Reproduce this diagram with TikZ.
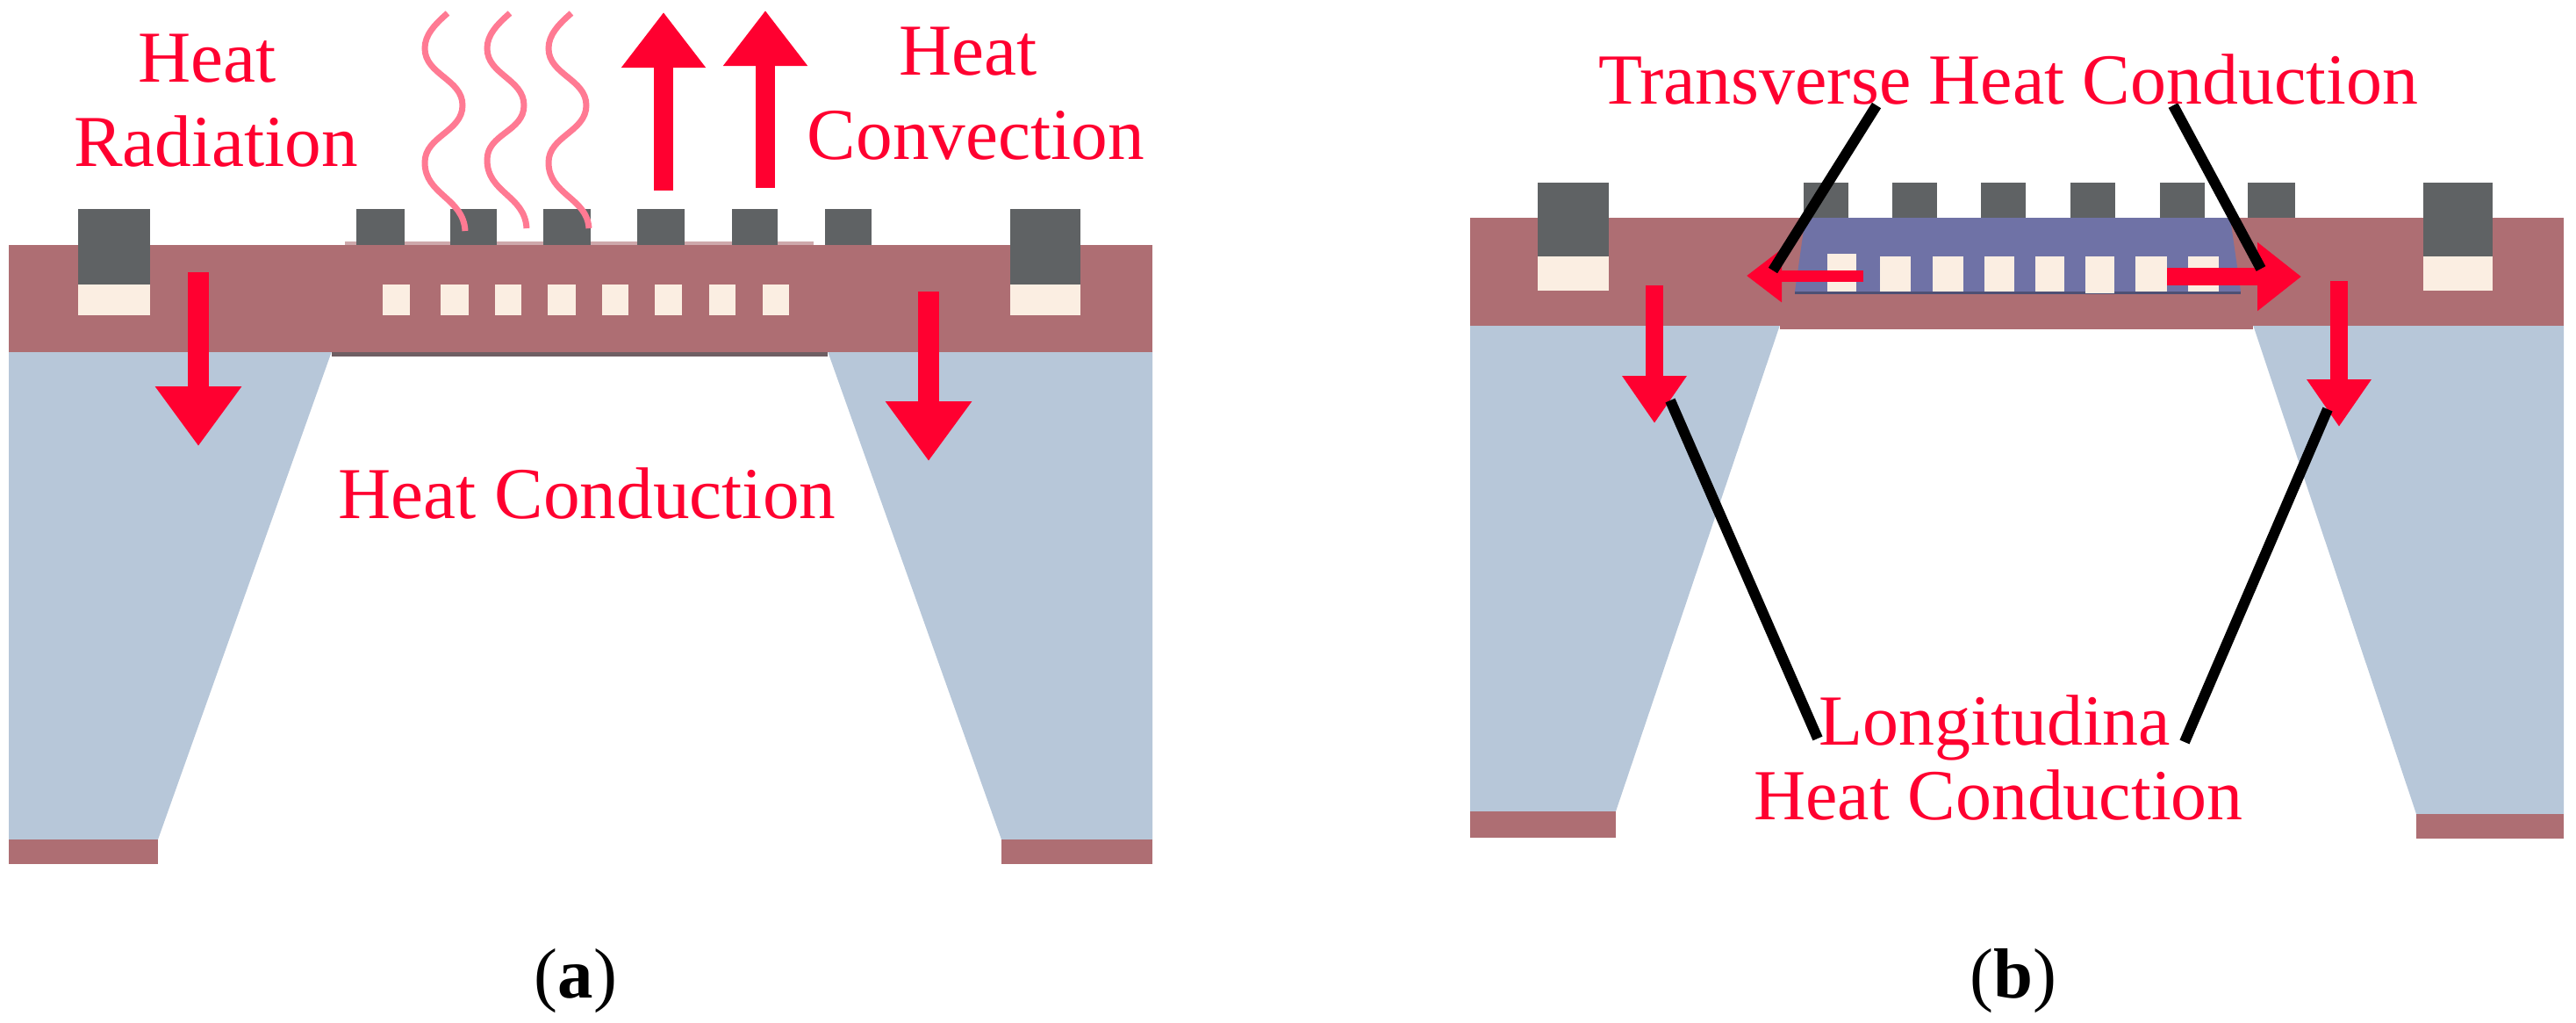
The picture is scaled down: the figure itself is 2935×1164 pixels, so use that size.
\documentclass[tikz,border=0pt]{standalone}
\usepackage{fontspec}
\setmainfont{Liberation Serif}
\usetikzlibrary{arrows.meta}
\definecolor{heatred}{HTML}{FF0030}
\definecolor{bodycol}{HTML}{AE6E73}
\definecolor{subcol}{HTML}{B7C7D9}
\definecolor{padcol}{HTML}{5F6264}
\definecolor{creamcol}{HTML}{FBEEE2}
\definecolor{coatcol}{HTML}{6F72A6}
\definecolor{edgecol}{HTML}{6F5F63}
\tikzstyle{body}=[fill=bodycol]
\tikzstyle{substrate}=[fill=subcol]
\tikzstyle{pad}=[fill=padcol]
\tikzstyle{cream}=[fill=creamcol]
\tikzstyle{coat}=[fill=coatcol]
\tikzstyle{wave}=[draw=heatred!52!white, line width=.7mm]
\tikzstyle{leader}=[draw=black, line width=1.2mm]
\tikzstyle{label}=[text=heatred, inner sep=0pt, anchor=base, font=\fontsize{23.7}{28}\selectfont]
\tikzstyle{labelb}=[text=heatred, inner sep=0pt, anchor=base, font=\fontsize{23.3}{28}\selectfont]
\tikzstyle{caption}=[text=black, inner sep=0pt, anchor=base, font=\fontsize{23}{28}\selectfont]
\tikzstyle{flowbig}=[draw=heatred, line width=2.4mm, -{Triangle[length=6.8mm,width=9.4mm]}]
\tikzstyle{flowup}=[draw=heatred, line width=2.2mm, -{Triangle[length=6.3mm,width=9.2mm]}]
\tikzstyle{flowdown}=[draw=heatred, line width=2mm, -{Triangle[length=5.4mm,width=7mm]}]
\tikzstyle{flowthin}=[draw=heatred, line width=1.3mm, -{Triangle[length=4mm,width=5.8mm]}]
\tikzstyle{flowwide}=[draw=heatred, line width=2mm, -{Triangle[length=5mm,width=7.5mm]}]
\begin{document}
\begin{tikzpicture}[x=.1mm, y=-.1mm]
\useasboundingbox (0,0) rectangle (2935,1164);

% panel a
\fill[substrate] (10,400) -- (378,400) -- (180,956) -- (10,956) -- cycle;
\fill[substrate] (943,400) -- (1313,400) -- (1313,956) -- (1141,956) -- cycle;
\fill[body] (10,956) rectangle (180,984);
\fill[body] (1141,956) rectangle (1313,984);
\fill[fill=bodycol!60!white] (393,275) rectangle (927,279);
\fill[body] (10,279) rectangle (1313,401);
\fill[fill=edgecol] (378,401) rectangle (943,406);
\fill[pad] (89,238) rectangle (171,324);
\fill[pad] (1151,238) rectangle (1231,324);
\fill[cream] (89,324) rectangle (171,359);
\fill[cream] (1151,324) rectangle (1231,359);
\fill[pad] (406,238) rectangle (461,279);
\fill[pad] (513,238) rectangle (566,279);
\fill[pad] (619,238) rectangle (673,279);
\fill[pad] (726,238) rectangle (780,279);
\fill[pad] (834,238) rectangle (886,279);
\fill[pad] (940,238) rectangle (993,279);
\fill[cream] (436,324) rectangle (467,359);
\fill[cream] (502,324) rectangle (534,359);
\fill[cream] (564,324) rectangle (594,359);
\fill[cream] (624,324) rectangle (656,359);
\fill[cream] (686,324) rectangle (716,359);
\fill[cream] (746,324) rectangle (777,359);
\fill[cream] (808,324) rectangle (838,359);
\fill[cream] (869,324) rectangle (899,359);

\draw[wave] (510,15) .. controls (495,28) and (484,40) .. (484,55) .. controls (484,85) and (527,90) .. (527,120) .. controls (527,150) and (484,155) .. (484,185) .. controls (484,222) and (528,225) .. (530,263);
\draw[wave] (581,15) .. controls (566,28) and (555,40) .. (555,55) .. controls (555,85) and (597,90) .. (597,120) .. controls (597,150) and (555,152) .. (555,182) .. controls (555,220) and (598,222) .. (600,260);
\draw[wave] (651,15) .. controls (636,28) and (625,40) .. (625,55) .. controls (625,85) and (668,90) .. (668,120) .. controls (668,150) and (625,155) .. (625,185) .. controls (625,222) and (669,225) .. (671,260);

\coordinate (UpA1) at (756,217);
\coordinate (UpA2) at (756,14);
\coordinate (UpB1) at (872,214);
\coordinate (UpB2) at (872,12);
\coordinate (DownA1) at (226,310);
\coordinate (DownA2) at (226,508);
\coordinate (DownB1) at (1058,332);
\coordinate (DownB2) at (1058,525);
\draw[flowup] (UpA1) -- (UpA2);
\draw[flowup] (UpB1) -- (UpB2);
\draw[flowbig] (DownA1) -- (DownA2);
\draw[flowbig] (DownB1) -- (DownB2);

\draw (236,93) node[label] (HeatR) {Heat};
\draw (246,189) node[label] (Radiation) {Radiation};
\draw (1103,85) node[label] (HeatC) {Heat};
\draw (1112,181) node[label] (Convection) {Convection};
\draw (669,590) node[label] (ConductionA) {Heat Conduction};
\draw (656,1136) node[caption] (CapA) {(\textbf{a})};

% panel b
\fill[substrate] (1675,370) -- (2028,370) -- (1841,924) -- (1675,924) -- cycle;
\fill[substrate] (2567,370) -- (2921,370) -- (2921,927) -- (2753,927) -- cycle;
\fill[body] (1675,924) rectangle (1841,954);
\fill[body] (2753,927) rectangle (2921,955);
\fill[body] (1675,248) rectangle (2921,371);
\fill[body] (2028,371) rectangle (2567,375);
\fill[coat] (2057,248) -- (2541,248) -- (2553,332) -- (2045,332) -- cycle;
\fill[fill=black!30!coatcol] (2045,332) rectangle (2553,335);
\fill[pad] (1752,208) rectangle (1833,292);
\fill[pad] (2761,208) rectangle (2840,292);
\fill[cream] (1752,292) rectangle (1833,331);
\fill[cream] (2761,292) rectangle (2840,331);
\fill[pad] (2055,208) rectangle (2106,248);
\fill[pad] (2156,208) rectangle (2207,248);
\fill[pad] (2257,208) rectangle (2308,248);
\fill[pad] (2359,208) rectangle (2410,248);
\fill[pad] (2461,208) rectangle (2512,248);
\fill[pad] (2561,208) rectangle (2615,248);
\fill[cream] (2082,289) rectangle (2115,332);
\fill[cream] (2142,292) rectangle (2177,332);
\fill[cream] (2202,292) rectangle (2237,332);
\fill[cream] (2261,292) rectangle (2295,332);
\fill[cream] (2319,292) rectangle (2352,332);
\fill[cream] (2376,292) rectangle (2409,334);
\fill[cream] (2433,292) rectangle (2469,332);
\fill[cream] (2493,292) rectangle (2528,332);

\coordinate (SideL1) at (2123,314);
\coordinate (SideL2) at (1990,314);
\coordinate (SideR1) at (2469,315);
\coordinate (SideR2) at (2622,315);
\coordinate (DownC1) at (1885,325);
\coordinate (DownC2) at (1885,482);
\coordinate (DownD1) at (2665,320);
\coordinate (DownD2) at (2665,486);
\draw[flowthin] (SideL1) -- (SideL2);
\draw[flowwide] (SideR1) -- (SideR2);
\draw[flowdown] (DownC1) -- (DownC2);
\draw[flowdown] (DownD1) -- (DownD2);

\coordinate (TipA) at (2138,120);
\coordinate (TipB) at (2476,120);
\coordinate (TipC) at (2071,841);
\coordinate (TipD) at (2489,845);
\coordinate (EndA) at (2020,308);
\coordinate (EndB) at (2576,306);
\coordinate (EndC) at (1903,456);
\coordinate (EndD) at (2652,466);
\draw[leader] (TipA) -- (EndA);
\draw[leader] (TipB) -- (EndB);
\draw[leader] (TipC) -- (EndC);
\draw[leader] (TipD) -- (EndD);

\draw (2288,118) node[labelb] (Transverse) {Transverse Heat Conduction};
\draw (2273,848) node[labelb] (Longitudina) {Longitudina};
\draw (2277,933) node[labelb] (ConductionB) {Heat Conduction};
\draw (2294,1136) node[caption] (CapB) {(\textbf{b})};
\end{tikzpicture}
\end{document}
